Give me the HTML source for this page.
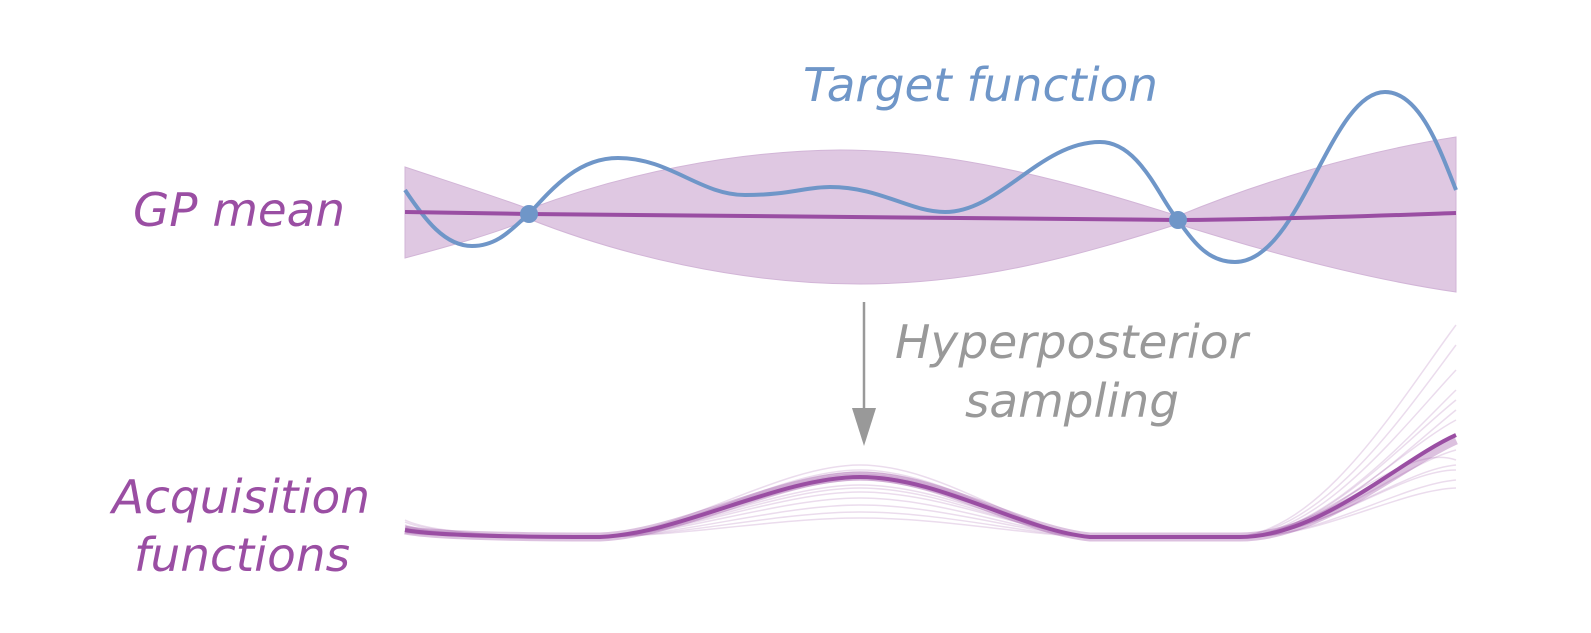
<!DOCTYPE html>
<html><head><meta charset="utf-8"><style>
html,body{margin:0;padding:0;background:#fff;overflow:hidden;width:1591px;height:633px;}
svg{display:block;}
text{font-family:"DejaVu Sans","Liberation Sans",sans-serif;font-style:oblique;font-size:46px;}
</style></head><body>
<svg width="1591" height="633" viewBox="0 0 1591 633" xmlns="http://www.w3.org/2000/svg">
<path d="M405,167 C450,182 500,198 529,209 C620,175 730,151 840,150 C960,150 1080,185 1178,216 C1260,182 1360,152 1456,137 L1456,292 C1360,278 1260,250 1178,224 C1080,255 980,284 860,284 C740,284 620,255 529,219 C500,232 450,246 405,258 Z" fill="#dfc8e2" stroke="#d2b5d7" stroke-width="1"/>
<path d="M405,190 C425,220 445,246 472,246 C500,246 515,225 529,214 C555,185 580,158 618,158 C670,158 700,195 745,195 C790,195 805,187 830,187 C880,187 910,212 945,212 C1000,212 1040,142 1100,142 C1140,142 1160,200 1178,220 C1195,245 1210,262 1235,262 C1300,262 1330,92 1385,92 C1420,92 1440,150 1456,190" fill="none" stroke="#6f96c8" stroke-width="4"/>
<path d="M405,212 L529,214 L1178,220 C1300,219 1400,215 1456,213" fill="none" stroke="#9a4ea3" stroke-width="4"/>
<circle cx="529" cy="214" r="9" fill="#6f96c8"/>
<circle cx="1178" cy="220" r="9" fill="#6f96c8"/>
<line x1="864" y1="302" x2="864" y2="410" stroke="#999" stroke-width="2.5"/>
<polygon points="852,408 876,408 864,446" fill="#999"/>
<g fill="none" stroke="#9a4ea3" stroke-width="1.5" stroke-opacity="0.2">
<path d="M405,520 C440,537 560,537 600,537 C680,533 780,465 860,465 C940,465 1020,530 1090,537 L1230,537 C1320,537 1400,400 1456,325"/>
<path d="M405,522 C440,537 560,537 600,537 C680,534 780,470 860,470 C940,470 1020,530 1090,537 L1230,537 C1320,537 1400,420 1456,345"/>
<path d="M405,525 C440,537 560,537 600,537 C680,534 780,478 860,478 C940,478 1020,530 1090,537 L1235,537 C1320,537 1400,430 1456,370"/>
<path d="M405,527 C440,537 560,537 600,537 C680,534 780,485 860,485 C940,485 1020,530 1090,537 L1235,537 C1320,537 1400,445 1456,390"/>
<path d="M405,528 C440,537 560,537 600,537 C680,535 780,492 860,492 C940,492 1020,530 1090,537 L1240,537 C1320,537 1400,455 1456,410"/>
<path d="M405,530 C440,537 560,537 600,537 C680,535 780,498 860,498 C940,498 1020,532 1090,537 L1240,537 C1320,537 1400,465 1456,450"/>
<path d="M405,531 C440,537 560,537 600,537 C680,536 780,505 860,505 C940,505 1020,532 1090,537 L1240,537 C1320,537 1400,470 1456,465"/>
<path d="M405,532 C440,537 560,537 600,537 C680,536 780,512 860,512 C940,512 1020,533 1090,537 L1245,537 C1320,537 1400,485 1456,480"/>
<path d="M405,533 C440,537 560,537 600,537 C680,536 780,518 860,518 C940,518 1020,534 1090,537 L1245,537 C1320,537 1400,490 1456,488"/>
<path d="M405,529 C440,537 560,537 600,537 C680,535 780,488 860,488 C940,488 1020,531 1090,537 L1238,537 C1320,537 1400,450 1456,420"/>
<path d="M405,526 C440,537 560,537 600,537 C680,534 780,474 860,474 C940,474 1020,530 1090,537 L1235,537 C1320,537 1400,440 1456,460"/>
<path d="M405,528 C440,537 560,537 600,537 C680,534 780,472 860,472 C940,472 1020,530 1090,537 L1238,537 C1320,537 1400,445 1456,400"/>
<path d="M405,529 C440,537 560,537 600,537 C680,534 780,480 860,480 C940,480 1020,530 1090,537 L1240,537 C1320,537 1400,470 1456,470"/>
</g>
<g fill="none" stroke="#9a4ea3" stroke-width="9" stroke-opacity="0.35">
<path d="M405,530 C440,537 560,537 600,537 C680,534 780,476 860,476 C940,476 1020,530 1090,537 L1240,537 C1320,537 1400,465 1456,440"/>
</g>
<path d="M405,530 C440,537 560,537 600,537 C680,534 780,477 860,477 C940,477 1020,530 1090,537 L1240,537 C1320,537 1400,460 1456,435" fill="none" stroke="#9a4ea3" stroke-width="4"/>
<text x="803" y="101" fill="#6f96c8" textLength="355" lengthAdjust="spacingAndGlyphs">Target function</text>
<text x="133" y="226" fill="#9a4ea3" textLength="212" lengthAdjust="spacingAndGlyphs">GP mean</text>
<text x="112" y="513" fill="#9a4ea3" textLength="258" lengthAdjust="spacingAndGlyphs">Acquisition</text>
<text x="134" y="571" fill="#9a4ea3" textLength="216" lengthAdjust="spacingAndGlyphs">functions</text>
<text x="895" y="358" fill="#999" textLength="353" lengthAdjust="spacingAndGlyphs">Hyperposterior</text>
<text x="965" y="417" fill="#999" textLength="214" lengthAdjust="spacingAndGlyphs">sampling</text>
</svg>
</body></html>
